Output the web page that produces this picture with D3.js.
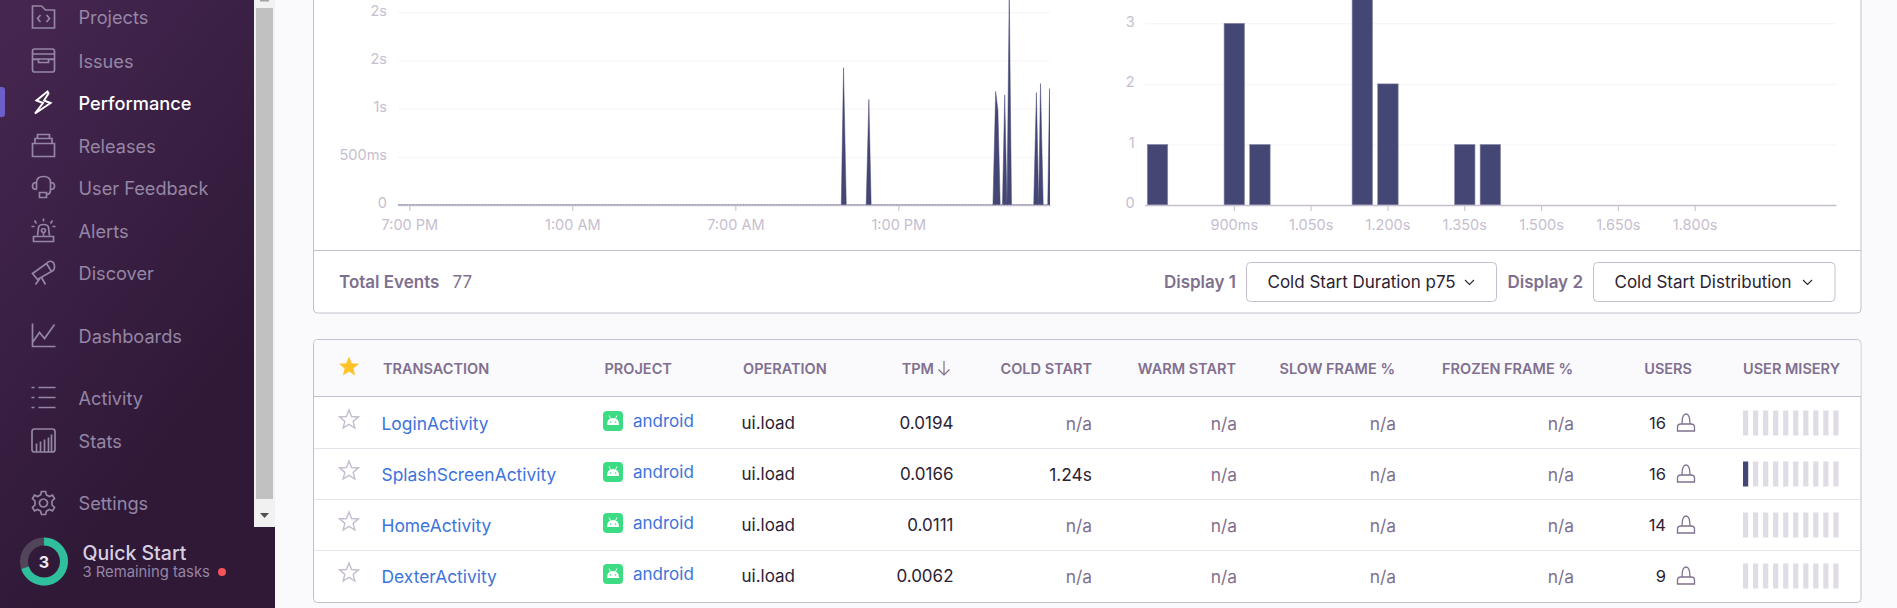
<!DOCTYPE html>
<html>
<head>
<meta charset="utf-8">
<script src="https://cdn.jsdelivr.net/npm/d3@7"></script>
<style>
  html, body { margin: 0; padding: 0; background: #faf9fb; overflow: hidden; }
  svg { display: block; }
  text { font-family: Inter, Roboto, sans-serif; }
</style>
</head>
<body>
<svg id="page" width="1897" height="608"></svg>
<script>
// Left chart: cold start duration p75
const durationTimes = ["06-01 18:35", "06-02 10:54", "06-02 10:59", "06-02 11:05", "06-02 11:49", "06-02 11:55", "06-02 12:00",
  "06-02 16:29", "06-02 16:35", "06-02 16:40", "06-02 16:45", "06-02 16:50", "06-02 16:55", "06-02 17:00", "06-02 17:05", "06-02 17:10",
  "06-02 17:59", "06-02 18:05", "06-02 18:10", "06-02 18:14", "06-02 18:20", "06-02 18:30", "06-02 18:34", "06-02 18:36"];
const durationValues = [0, 0, 1425, 0, 0, 1095, 0,
  0, 1178, 981, 0, 0, 1143, 0, 2200, 0,
  0, 1167, 0, 1260, 0, 0, 1208, 900];
const durationTicks = ["06-01 19:00", "06-02 01:00", "06-02 07:00", "06-02 13:00"];
const durationYTicks = [0, 500, 1000, 1500, 2000];
const durationYLabels = ["0", "500ms", "1s", "2s", "2s"];

// Right chart: cold start distribution, 50ms bins
const histBins = [750, 800, 850, 900, 950, 1000, 1050, 1100, 1150, 1200, 1250, 1300, 1350, 1400,
  1450, 1500, 1550, 1600, 1650, 1700, 1750, 1800, 1850, 1900, 1950, 2000, 2050];
const histCounts = [1, 0, 0, 3, 1, 0, 0, 0, 4, 2, 0, 0, 1, 1, 0, 0, 0, 0, 0, 0, 0, 0, 0, 0, 0, 0, 0];
const histTicks = [900, 1050, 1200, 1350, 1500, 1650, 1800];
const histYTicks = [0, 1, 2, 3];

// Table
const transactions = ["LoginActivity", "SplashScreenActivity", "HomeActivity", "DexterActivity"];
const projects = ["android", "android", "android", "android"];
const operations = ["ui.load", "ui.load", "ui.load", "ui.load"];
const tpm = ["0.0194", "0.0166", "0.0111", "0.0062"];
const coldStart = ["n/a", "1.24s", "n/a", "n/a"];
const warmStart = ["n/a", "n/a", "n/a", "n/a"];
const slowFrame = ["n/a", "n/a", "n/a", "n/a"];
const frozenFrame = ["n/a", "n/a", "n/a", "n/a"];
const users = [16, 16, 14, 9];
const misery = [0, 1, 0, 0];

// Sidebar
const navLabels = ["Projects", "Issues", "Performance", "Releases", "User Feedback", "Alerts", "Discover", "Dashboards", "Activity", "Stats", "Settings"];
const navY = [17, 60.5, 102.5, 145.5, 187.5, 230.5, 272.5, 335.5, 397.5, 440.5, 503];

const icons = {
  "Projects": "M1 1H10L14 5H23V23H1ZM9 10L6 13.5 9 17M15 10L18 13.5 15 17",
  "Issues": "M3 0.5H21Q23 0.5 23 3V21Q23 23.5 21 23.5H3Q1 23.5 1 21V3Q1 0.5 3 0.5ZM1 5.5H23M1 10.5H23M1 11H7V14H17V11H23",
  "Performance": "M16 1L5 10 11.5 12.5 3.5 23 19 12.5 12.5 10 17 3Z",
  "Releases": "M1 10H23V23H1ZM3.5 10V5H20.5V10M6 5V1H18V5",
  "User Feedback": "M5 14V7Q5 1 12 1T19 7V14M5 7Q1 7 1 10.5T5 14M19 7Q23 7 23 10.5T19 14M15 19Q19 19 19 14M8 17H15V22H8Z",
  "Alerts": "M12 0V3M3 2L5 5M21 2L19 5M0 8H3M21 8H24M6 17L7 9Q7.5 6 12 6T17 9L18 17M2 18H22V23H2ZM12 10A2 2 0 1 1 11.9 10M12 14V17",
  "Discover": "M1 13L15 3 20 11 6 19ZM15 3Q17 0 20 1T23 6 20 11M9 17L4 24M10 17L14 24",
  "Dashboards": "M1 0V23H24M1 19L8 9 13 15 23 1",
  "Activity": "M0 2H3M7 2H24M0 12H3M7 12H24M0 22H3M7 22H24",
  "Stats": "M3 0.5H21Q23.5 0.5 23.5 3V21Q23.5 23.5 21 23.5H3Q0.5 23.5 0.5 21V3Q0.5 0.5 3 0.5ZM5 23V15M9 23V13M13 23V11M17 23V9M20 23V6",
  "Settings": "M10 0.5H14L15 4 18 5.5 21 4 23 7.5 20.5 10V14L23 16.5 21 20 18 18.5 15 20 14 23.5H10L9 20 6 18.5 3 20 1 16.5 3.5 14V10L1 7.5 3 4 6 5.5 9 4ZM12 8A4 4 0 1 1 11.9 8"
};

const svg = d3.select("#page");
const defs = svg.append("defs");

// Sidebar gradient, lighter at the top left and darker towards the bottom right
const grad = defs.append("linearGradient").attr("id", "sideGrad")
  .attr("gradientUnits", "userSpaceOnUse")
  .attr("x1", -20).attr("y1", 60).attr("x2", 290).attr("y2", 300);
grad.append("stop").attr("offset", "0%").attr("stop-color", "#452650");
grad.append("stop").attr("offset", "100%").attr("stop-color", "#2f1937");

const purple = "#444674";
const axisColor = "#c6becf";
const gridColor = "#f5f3f7";
const subText = "#80708f";
const darkText = "#2b2233";
const linkColor = "#3d74db";

// helper for plain text
function label(x, y, str, opts) {
  opts = opts || {};
  return svg.append("text")
    .attr("x", x).attr("y", y)
    .attr("dominant-baseline", "central")
    .attr("text-anchor", opts.anchor || "start")
    .attr("font-size", opts.size || 15)
    .attr("font-weight", opts.weight || 400)
    .attr("fill", opts.color || darkText)
    .text(str);
}

/* ---------- cards ---------- */
svg.append("rect").attr("x", 313.5).attr("y", -20).attr("width", 1547.5).attr("height", 333)
  .attr("rx", 4).attr("fill", "#fff").attr("stroke", axisColor);
svg.append("line").attr("x1", 313.5).attr("x2", 1861).attr("y1", 250.5).attr("y2", 250.5).attr("stroke", axisColor);

svg.append("rect").attr("x", 313.5).attr("y", 339.5).attr("width", 1547.5).attr("height", 263)
  .attr("rx", 4).attr("fill", "#fff").attr("stroke", axisColor);
svg.append("path").attr("d", "M314 396V344Q314 340 318 340H1856Q1860.5 340 1860.5 344V396Z").attr("fill", "#faf9fb");
svg.append("line").attr("x1", 313.5).attr("x2", 1861).attr("y1", 396.5).attr("y2", 396.5).attr("stroke", axisColor);
[448.5, 499.5, 550.5].forEach(y => {
  svg.append("line").attr("x1", 314).attr("x2", 1860.5).attr("y1", y).attr("y2", y).attr("stroke", "#e7e1ec");
});

/* ---------- left chart ---------- */
const parseTime = d3.timeParse("%m-%d %H:%M");
const durationX = d3.scaleTime()
  .domain([parseTime("06-01 18:35"), parseTime("06-02 18:35")])
  .range([398, 1050]);
const durationY = d3.scaleLinear().domain([0, 2000]).range([205, 12.3]);

defs.append("clipPath").attr("id", "leftClip").append("rect")
  .attr("x", 398).attr("y", -30).attr("width", 652).attr("height", 235.5);

const yAxisLeft = d3.axisLeft(durationY).tickValues(durationYTicks)
  .tickSize(-652).tickPadding(11)
  .tickFormat((d, i) => durationYLabels[i]);
const gLeft = svg.append("g").attr("transform", "translate(398,0)").call(yAxisLeft);
gLeft.select(".domain").remove();
gLeft.selectAll("line").attr("stroke", gridColor);
gLeft.selectAll("text").attr("fill", axisColor).attr("font-size", 14.5).attr("font-family", "Inter").attr("dy", "0.2em");

const durationSeries = durationTimes.map((t, i) => ({ t: parseTime(t), v: durationValues[i] }));
const area = d3.area().x(d => durationX(d.t)).y0(durationY(0)).y1(d => durationY(d.v));
svg.append("path").datum(durationSeries)
  .attr("clip-path", "url(#leftClip)")
  .attr("d", area)
  .attr("fill", purple)
  .attr("stroke", purple).attr("stroke-width", 0.8).attr("stroke-opacity", 0.6);

const xAxisLeft = d3.axisBottom(durationX)
  .tickValues(durationTicks.map(parseTime))
  .tickSize(6).tickSizeOuter(0).tickPadding(9)
  .tickFormat(d3.timeFormat("%-I:%M %p"));
const gLeftX = svg.append("g").attr("transform", "translate(0,205)").call(xAxisLeft);
gLeftX.select(".domain").attr("stroke", axisColor).attr("stroke-width", 1.5);
gLeftX.selectAll("line").attr("stroke", axisColor);
gLeftX.selectAll("text").attr("fill", axisColor).attr("font-size", 14.5).attr("font-family", "Inter");
// the symbols of the zero line make the baseline look dotted
svg.append("line").attr("x1", 398).attr("x2", 1050).attr("y1", 205).attr("y2", 205)
  .attr("stroke", purple).attr("stroke-opacity", 0.3).attr("stroke-dasharray", "1 2");

/* ---------- right chart ---------- */
const histX = d3.scaleBand().domain(histBins).range([1144.7, 1836]).paddingInner(0.2).paddingOuter(0.1);
const histY = d3.scaleLinear().domain([0, 3]).range([205, 23.3]);

const yAxisRight = d3.axisLeft(histY).tickValues(histYTicks).tickSize(-691.3).tickPadding(10).tickFormat(d3.format("d"));
const gRight = svg.append("g").attr("transform", "translate(1144.7,0)").call(yAxisRight);
gRight.select(".domain").remove();
gRight.selectAll("line").attr("stroke", gridColor);
gRight.selectAll("text").attr("fill", axisColor).attr("font-size", 14.5).attr("font-family", "Inter").attr("dy", "0.2em");

svg.selectAll("rect.bar").data(histBins.map((b, i) => ({ b: b, c: histCounts[i] })).filter(d => d.c > 0))
  .enter().append("rect").attr("class", "bar")
  .attr("x", d => histX(d.b))
  .attr("y", d => histY(d.c))
  .attr("width", histX.bandwidth())
  .attr("height", d => histY(0) - histY(d.c))
  .attr("fill", purple)
  .attr("stroke", "#8f90ad").attr("stroke-width", 0.6);

const xAxisRight = d3.axisBottom(histX).tickValues(histTicks).tickSize(6).tickSizeOuter(0).tickPadding(9)
  .tickFormat(d => d < 1000 ? d + "ms" : d3.format(".3f")(d / 1000) + "s");
const gRightX = svg.append("g").attr("transform", "translate(0,205)").call(xAxisRight);
gRightX.select(".domain").attr("stroke", axisColor).attr("stroke-width", 1.5);
gRightX.selectAll("line").attr("stroke", axisColor);
gRightX.selectAll("text").attr("fill", axisColor).attr("font-size", 14.5).attr("font-family", "Inter");

/* ---------- footer of the chart card ---------- */
label(339, 282, "Total Events", { size: 17, weight: 600, color: subText });
label(452.5, 282, "77", { size: 17, color: subText });
label(1236, 282, "Display 1", { size: 17, weight: 600, color: subText, anchor: "end" });
label(1583, 282, "Display 2", { size: 17, weight: 600, color: subText, anchor: "end" });

function dropdown(x, w, str, textX, chevX) {
  svg.append("rect").attr("x", x).attr("y", 262.5).attr("width", w).attr("height", 39).attr("rx", 4)
    .attr("fill", "#fff").attr("stroke", axisColor);
  label(textX, 282, str, { size: 17 });
  svg.append("path").attr("d", `M${chevX - 4.5} 280L${chevX} 284.5L${chevX + 4.5} 280`)
    .attr("fill", "none").attr("stroke", darkText).attr("stroke-width", 1.1);
}
dropdown(1246.5, 250, "Cold Start Duration p75", 1267.5, 1469.5);
dropdown(1593.5, 241.5, "Cold Start Distribution", 1614.5, 1807.5);

/* ---------- table ---------- */
const starPath = d3.range(10).map(i => {
  const r = i % 2 ? 4.6 : 10.5;
  const a = -Math.PI / 2 + i * Math.PI / 5;
  return (i ? "L" : "M") + (r * Math.cos(a)).toFixed(2) + " " + (r * Math.sin(a)).toFixed(2);
}).join("") + "Z";

svg.append("path").attr("d", starPath).attr("transform", "translate(349,367)").attr("fill", "#ffc227");

const headY = 368;
const headOpts = { size: 14.5, weight: 600, color: subText };
label(383, headY, "TRANSACTION", headOpts);
label(604.5, headY, "PROJECT", headOpts);
label(743, headY, "OPERATION", headOpts);
label(934, headY, "TPM", Object.assign({ anchor: "end" }, headOpts));
svg.append("path").attr("d", "M944 361V375M938.5 369.5L944 375L949.5 369.5").attr("fill", "none").attr("stroke", subText).attr("stroke-width", 1.2);
label(1092, headY, "COLD START", Object.assign({ anchor: "end" }, headOpts));
label(1236, headY, "WARM START", Object.assign({ anchor: "end" }, headOpts));
label(1395, headY, "SLOW FRAME %", Object.assign({ anchor: "end" }, headOpts));
label(1573, headY, "FROZEN FRAME %", Object.assign({ anchor: "end" }, headOpts));
label(1692, headY, "USERS", Object.assign({ anchor: "end" }, headOpts));
label(1840, headY, "USER MISERY", Object.assign({ anchor: "end" }, headOpts));

const rowScale = d3.scalePoint().domain(transactions).range([423, 576]);
const miseryX = d3.scaleBand().domain(d3.range(10)).range([1743, 1838.5]).paddingInner(0.48).paddingOuter(0);

transactions.forEach((t, i) => {
  const y = rowScale(t);
  svg.append("path").attr("d", starPath).attr("transform", `translate(349,${y - 3}) scale(0.95)`)
    .attr("fill", "none").attr("stroke", axisColor).attr("stroke-width", 1.5);
  label(381.5, y, t, { size: 17.4, color: linkColor });

  // android badge
  svg.append("rect").attr("x", 603).attr("y", y - 12).attr("width", 20).attr("height", 20).attr("rx", 4).attr("fill", "#3ddc84");
  svg.append("path").attr("d", `M607 ${y + 2}Q607 ${y - 5} 613 ${y - 5}Q619 ${y - 5} 619 ${y + 2}Z`).attr("fill", "#fff");
  svg.append("path").attr("d", `M609 ${y - 7.5}L610.5 ${y - 4.5}M617 ${y - 7.5}L615.5 ${y - 4.5}`).attr("stroke", "#fff").attr("stroke-width", 0.9);
  svg.append("circle").attr("cx", 610.5).attr("cy", y - 1).attr("r", 0.8).attr("fill", "#3ddc84");
  svg.append("circle").attr("cx", 615.5).attr("cy", y - 1).attr("r", 0.8).attr("fill", "#3ddc84");
  label(633, y - 2, projects[i], { size: 17, color: linkColor });

  label(741.5, y, operations[i], { size: 17 });
  label(953.5, y, tpm[i], { size: 17, anchor: "end" });

  [[coldStart, 1092], [warmStart, 1237], [slowFrame, 1396], [frozenFrame, 1574]].forEach(c => {
    const na = c[0][i] === "n/a";
    label(c[1], y, c[0][i], { size: 17.4, anchor: "end", color: na ? subText : darkText });
  });

  label(1666, y - 0.5, users[i], { size: 16.5, anchor: "end" });
  // user icon
  svg.append("path")
    .attr("d", `M1682 ${y + 1}Q1682 ${y - 9} 1686 ${y - 9}Q1690 ${y - 9} 1690 ${y + 1}M1677.5 ${y + 8}V${y + 4}Q1677.5 ${y + 1} 1681 ${y + 1}H1691Q1694.5 ${y + 1} 1694.5 ${y + 4}V${y + 8}Z`)
    .attr("fill", "none").attr("stroke", subText).attr("stroke-width", 1.3);

  d3.range(10).forEach(n => {
    svg.append("rect")
      .attr("x", miseryX(n)).attr("y", y - 12.5)
      .attr("width", miseryX.bandwidth()).attr("height", 25)
      .attr("fill", n < misery[i] ? purple : "#e0dce5");
  });
});

/* ---------- sidebar ---------- */
svg.append("rect").attr("x", 0).attr("y", 0).attr("width", 275).attr("height", 608).attr("fill", "url(#sideGrad)");

// scrollbar on top of the sidebar
svg.append("rect").attr("x", 254).attr("y", 0).attr("width", 21).attr("height", 527).attr("fill", "#f1f1f1");
svg.append("rect").attr("x", 256).attr("y", 8).attr("width", 17).attr("height", 491).attr("fill", "#c1c1c1");
svg.append("rect").attr("x", 260).attr("y", 0).attr("width", 9).attr("height", 1.5).attr("fill", "#a3a3a3");
svg.append("path").attr("d", "M260 513H269L264.5 518Z").attr("fill", "#505050");

// active item marker
svg.append("path").attr("d", "M0 87H2Q5 87 5 90V114Q5 117 2 117H0Z").attr("fill", "#6c5fc7");

navLabels.forEach((name, i) => {
  const active = name === "Performance";
  const color = active ? "#fff" : "#9586a5";
  svg.append("path").attr("d", icons[name])
    .attr("transform", `translate(31.5,${navY[i] - 12})`)
    .attr("fill", "none").attr("stroke", color).attr("stroke-width", active ? 2 : 1.7);
  label(78.5, navY[i], name, { size: 18.2, weight: active ? 500 : 400, color: color });
});

// quick start ring
const ringArc = d3.arc().innerRadius(16).outerRadius(24);
const ring = svg.append("g").attr("transform", "translate(44,561.5)");
ring.append("path").attr("d", ringArc({ startAngle: 0, endAngle: 2 * Math.PI })).attr("fill", "#524459");
ring.append("path").attr("d", ringArc({ startAngle: 0, endAngle: 2 * Math.PI * 0.7 })).attr("fill", "#2fbf9c");
label(44, 562, "3", { size: 16, weight: 700, color: "#efe9f3", anchor: "middle" });
label(82.5, 553, "Quick Start", { size: 19.5, weight: 500, color: "#d8cfe0" });
label(82.5, 572, "3 Remaining tasks", { size: 14.8, color: "#9586a5" });
svg.append("circle").attr("cx", 222).attr("cy", 572).attr("r", 4).attr("fill", "#f55459");
</script>
</body>
</html>
